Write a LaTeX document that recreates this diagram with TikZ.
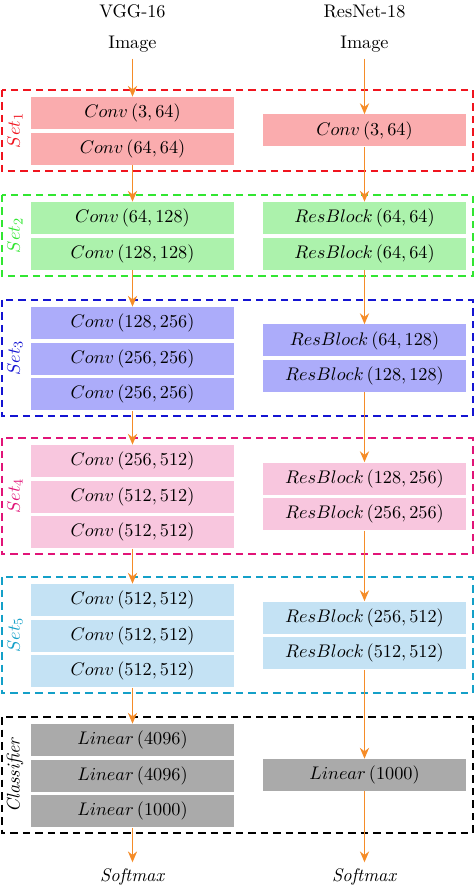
\documentclass[tikz,border=0pt,11pt]{standalone}
\usepackage{amsmath,amssymb}
\usepackage{xcolor}
\usepackage{tikz}
\usetikzlibrary{arrows.meta,positioning,calc}
\definecolor{redline}{RGB}{240,20,30}
\definecolor{redfill}{RGB}{250,172,174}
\definecolor{greenline}{RGB}{50,230,50}
\definecolor{greenfill}{RGB}{172,242,172}
\definecolor{blueline}{RGB}{20,20,210}
\definecolor{bluefill}{RGB}{172,172,250}
\definecolor{pinkline}{RGB}{225,20,120}
\definecolor{pinkfill}{RGB}{248,198,222}
\definecolor{cyanline}{RGB}{20,160,200}
\definecolor{cyanfill}{RGB}{196,226,244}
\definecolor{clsfill}{RGB}{170,170,170}
\definecolor{floworange}{RGB}{245,140,40}
\newcommand{\layer}[2]{$#1\,(#2)$}
\newcommand{\setframe}[5]{\draw[grp,#1] (1.5,#2) rectangle (472.5,#3);
  \node[grplabel,text=#1] (#4) at (15,{(#2+#3)/2}) {#5};}

\begin{document}
\begin{tikzpicture}[x=0.6pt,y=-0.6pt,
  blk/.style={minimum width=121.8pt,minimum height=19.2pt,inner sep=0pt},
  grp/.style={line width=1.2pt,dash pattern=on 4.5pt off 3pt},
  grplabel/.style={rotate=90,inner sep=0pt},
  flow/.style={-{Stealth[length=6.5pt,width=5.5pt]},draw=floworange,line width=0.9pt}]
\useasboundingbox (0,0) rectangle (474,888);
% frames
\setframe{redline}{90}{171}{set1}{$Set_1$}
\setframe{greenline}{195}{276}{set2}{$Set_2$}
\setframe{blueline}{300}{416}{set3}{$Set_3$}
\setframe{pinkline}{438}{554}{set4}{$Set_4$}
\setframe{cyanline}{577}{693}{set5}{$Set_5$}
\setframe{black}{717}{833}{cls}{\textit{Classifier}}
% headers
\node (vgg) at (132.5,11) {VGG-16};
\node (res) at (364.5,11) {ResNet-18};
\node (imgL) at (132.5,44) {Image};
\node (imgR) at (364.5,44) {Image};
% VGG-16
\node[blk,fill=redfill] (L11) at (132.5,113) {\layer{Conv}{3,64}};
\node[blk,fill=redfill,below=1.8pt of L11] (L12) {\layer{Conv}{64,64}};
\node[blk,fill=greenfill] (L21) at (132.5,218) {\layer{Conv}{64,128}};
\node[blk,fill=greenfill,below=1.8pt of L21] (L22) {\layer{Conv}{128,128}};
\node[blk,fill=bluefill] (L31) at (132.5,323) {\layer{Conv}{128,256}};
\node[blk,fill=bluefill,below=1.8pt of L31] (L32) {\layer{Conv}{256,256}};
\node[blk,fill=bluefill,below=1.8pt of L32] (L33) {\layer{Conv}{256,256}};
\node[blk,fill=pinkfill] (L41) at (132.5,461) {\layer{Conv}{256,512}};
\node[blk,fill=pinkfill,below=1.8pt of L41] (L42) {\layer{Conv}{512,512}};
\node[blk,fill=pinkfill,below=1.8pt of L42] (L43) {\layer{Conv}{512,512}};
\node[blk,fill=cyanfill] (L51) at (132.5,600) {\layer{Conv}{512,512}};
\node[blk,fill=cyanfill,below=1.8pt of L51] (L52) {\layer{Conv}{512,512}};
\node[blk,fill=cyanfill,below=1.8pt of L52] (L53) {\layer{Conv}{512,512}};
\node[blk,fill=clsfill] (L61) at (132.5,740) {\layer{Linear}{4096}};
\node[blk,fill=clsfill,below=1.8pt of L61] (L62) {\layer{Linear}{4096}};
\node[blk,fill=clsfill,below=1.8pt of L62] (L63) {\layer{Linear}{1000}};
% ResNet-18
\node[blk,fill=redfill] (R11) at (364.5,130.5) {\layer{Conv}{3,64}};
\node[blk,fill=greenfill] (R21) at (364.5,218) {\layer{ResBlock}{64,64}};
\node[blk,fill=greenfill,below=1.8pt of R21] (R22) {\layer{ResBlock}{64,64}};
\node[blk,fill=bluefill] (R31) at (364.5,340.5) {\layer{ResBlock}{64,128}};
\node[blk,fill=bluefill,below=1.8pt of R31] (R32) {\layer{ResBlock}{128,128}};
\node[blk,fill=pinkfill] (R41) at (364.5,478.5) {\layer{ResBlock}{128,256}};
\node[blk,fill=pinkfill,below=1.8pt of R41] (R42) {\layer{ResBlock}{256,256}};
\node[blk,fill=cyanfill] (R51) at (364.5,617.5) {\layer{ResBlock}{256,512}};
\node[blk,fill=cyanfill,below=1.8pt of R51] (R52) {\layer{ResBlock}{512,512}};
\node[blk,fill=clsfill] (R61) at (364.5,775) {\layer{Linear}{1000}};
% outputs
\node (smL) at (132.5,877) {\textit{Softmax}};
\node (smR) at (364.5,877) {\textit{Softmax}};
% arrows
\draw[flow] (imgL) -- (L11);
\draw[flow] (L12) -- (L21);
\draw[flow] (L22) -- (L31);
\draw[flow] (L33) -- (L41);
\draw[flow] (L43) -- (L51);
\draw[flow] (L53) -- (L61);
\draw[flow] (L63) -- (smL);
\draw[flow] (imgR) -- (R11);
\draw[flow] (R11) -- (R21);
\draw[flow] (R22) -- (R31);
\draw[flow] (R32) -- (R41);
\draw[flow] (R42) -- (R51);
\draw[flow] (R52) -- (R61);
\draw[flow] (R61) -- (smR);
\end{tikzpicture}
\end{document}
